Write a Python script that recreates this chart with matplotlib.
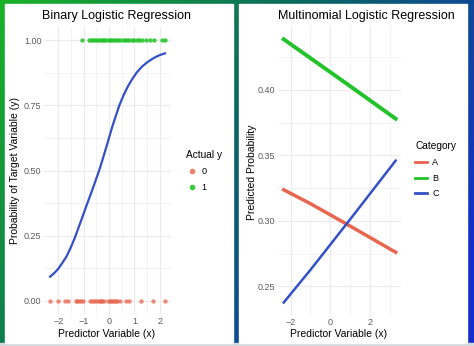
import numpy as np
import matplotlib
matplotlib.use("Agg")
import matplotlib.pyplot as plt
from matplotlib.patches import Rectangle
from matplotlib.lines import Line2D

plt.rcParams['font.family'] = ['Liberation Sans', 'DejaVu Sans']

# ---- binary logistic data ----
curve_x = [-2.33, -2.15, -2.0, -1.85, -1.67, -1.5, -1.34, -1.2, -1.05, -0.88,
           -0.72, -0.56, -0.39, -0.22, -0.03, 0.12, 0.27, 0.41, 0.58, 0.75,
           0.92, 1.09, 1.3, 1.5, 1.7, 1.9, 2.05, 2.21]
curve_p = [0.093, 0.108, 0.124, 0.145, 0.172, 0.207, 0.245, 0.282, 0.322, 0.368,
           0.41, 0.453, 0.50, 0.553, 0.615, 0.665, 0.71, 0.75, 0.79, 0.823,
           0.851, 0.875, 0.898, 0.914, 0.927, 0.938, 0.944, 0.949]
x_y1 = [-1.06, -0.78, -0.7, -0.62, -0.55, -0.48, -0.4, -0.33, -0.25, -0.18,
        -0.1, -0.02, 0.05, 0.12, 0.2, 0.28, 0.35, 0.45, 0.55, 0.62, 0.7, 0.8,
        0.9, 1.0, 1.1, 1.2, 1.3, 1.45, 1.6, 1.79, 2.08, 2.2]
x_y0 = [-2.33, -2.0, -1.74, -1.61, -1.32, -1.26, -1.19, -1.1, -1.02, -0.75,
        -0.67, -0.59, -0.51, -0.43, -0.37, -0.32, -0.26, -0.2, -0.05, 0.02,
        0.08, 0.14, 0.2, 0.26, 0.32, 0.43, 0.67, 0.79, 1.26, 1.73, 2.21]

# ---- multinomial data ----
multi_x = [-2.35, -1, 0, 1, 2, 3.3]
prob_a = [0.3237, 0.3131, 0.3046, 0.2960, 0.2873, 0.276]
prob_b = [0.4387, 0.4243, 0.4136, 0.4029, 0.3921, 0.378]
prob_c = [0.2376, 0.2626, 0.2818, 0.3011, 0.3206, 0.346]
categories = ['A', 'B', 'C']

RED = '#e8664f'
GREEN = '#22c32a'
BLUE = '#3450c8'
GRID = '#ebebeb'
TICK = '#5a5a5a'

W, H = 474, 346
fig = plt.figure(figsize=(W / 100, H / 100), dpi=100)

# gradient background (green top-left -> blue bottom-right)
bg = fig.add_axes([0, 0, 1, 1], zorder=-10)
gx, gy = np.meshgrid(np.linspace(0, 1, 200), np.linspace(0, 1, 200))
t = np.clip(0.75 * gx + 0.35 * gy, 0, 1)
c0 = np.array([0.10, 0.70, 0.15])
c1 = np.array([0.04, 0.40, 0.38])
c2 = np.array([0.08, 0.18, 0.80])
img = np.where(t[..., None] < 0.5,
               c0 + (c1 - c0) * (t[..., None] / 0.5),
               c1 + (c2 - c1) * ((t[..., None] - 0.5) / 0.5))
bg.imshow(img, extent=[0, 1, 0, 1], aspect='auto', origin='upper')
bg.add_patch(Rectangle((0, 0), 1, 3 / H, color='#d3d9df'))
bg.set_xlim(0, 1)
bg.set_ylim(0, 1)
bg.axis('off')

# white panels
for x0, x1 in [(5, 233), (239, 467)]:
    fig.patches.append(Rectangle((x0 / W, 3 / H), (x1 - x0) / W, (342 - 3) / H,
                                 transform=fig.transFigure, color='white', zorder=-5))


def style(ax):
    for s in ax.spines.values():
        s.set_visible(False)
    ax.tick_params(length=0, labelsize=6.5, labelcolor=TICK, pad=2)
    ax.grid(True, which='major', color=GRID, linewidth=0.8)
    ax.grid(True, which='minor', color=GRID, linewidth=0.4)
    ax.set_axisbelow(True)
    ax.set_facecolor('none')


# ---- left: binary ----
ax1 = fig.add_axes([44.3 / W, (H - 314) / H, (170.7 - 44.3) / W, 287 / H])
style(ax1)
ax1.scatter(x_y0, [0] * len(x_y0), s=10, color=RED, alpha=0.75, linewidths=0)
ax1.scatter(x_y1, [1] * len(x_y1), s=10, color=GREEN, alpha=0.85, linewidths=0)
ax1.plot(curve_x, curve_p, color=BLUE, linewidth=1.6, solid_joinstyle='round')
ax1.set_xlim(-2.557, 2.437)
ax1.set_ylim(-0.05, 1.05)
ax1.set_xticks([-2, -1, 0, 1, 2])
ax1.set_xticks([-1.5, -0.5, 0.5, 1.5], minor=True)
ax1.set_yticks([0, 0.25, 0.5, 0.75, 1.0])
ax1.set_yticklabels(['0.00', '0.25', '0.50', '0.75', '1.00'])
ax1.set_yticks([0.125, 0.375, 0.625, 0.875], minor=True)
ax1.tick_params(which='minor', length=0)
fig.text(117 / W, 1 - 16 / H, 'Binary Logistic Regression', ha='center', va='center', fontsize=9)
fig.text(106.5 / W, 1 - 334 / H, 'Predictor Variable (x)', ha='center', va='center', fontsize=7.5)
fig.text(15 / W, 1 - 170 / H, 'Probability of Target Variable (y)', ha='center', va='center',
         rotation=90, fontsize=7.5)
h1 = [Line2D([], [], linestyle='', marker='o', markersize=3, color=RED, alpha=0.75),
      Line2D([], [], linestyle='', marker='o', markersize=3, color=GREEN, alpha=0.85)]
leg1 = fig.legend(h1, ['0', '1'], title='Actual y', loc='upper left',
                  bbox_to_anchor=(178 / W, 1 - 142 / H), frameon=False, fontsize=6.5,
                  title_fontsize=7.3, handlelength=1.2, handletextpad=0.5, labelspacing=0.75)
leg1._legend_box.align = 'left'

# ---- right: multinomial ----
ax2 = fig.add_axes([278.2 / W, (H - 315.6) / H, 123 / W, (315.6 - 26.2) / H])
style(ax2)
ax2.plot(multi_x, prob_a, color=RED, linewidth=2.5, solid_joinstyle='round')
ax2.plot(multi_x, prob_b, color=GREEN, linewidth=2.8, solid_joinstyle='round')
ax2.plot(multi_x, prob_c, color=BLUE, linewidth=1.8, solid_joinstyle='round')
ax2.set_xlim(-2.63, 3.58)
ax2.set_ylim(0.2276, 0.4487)
ax2.set_xticks([-2, 0, 2])
ax2.set_xticks([-1, 1, 3], minor=True)
ax2.set_yticks([0.25, 0.30, 0.35, 0.40])
ax2.set_yticklabels(['0.25', '0.30', '0.35', '0.40'])
ax2.set_yticks([0.275, 0.325, 0.375, 0.425], minor=True)
ax2.tick_params(which='minor', length=0)
fig.text(366 / W, 1 - 16 / H, 'Multinomial Logistic Regression', ha='center', va='center', fontsize=9)
fig.text(339 / W, 1 - 334 / H, 'Predictor Variable (x)', ha='center', va='center', fontsize=7.5)
fig.text(252 / W, 1 - 172 / H, 'Predicted Probability', ha='center', va='center',
         rotation=90, fontsize=7.5)
h2 = [Line2D([], [], color=c, linewidth=2) for c in (RED, GREEN, BLUE)]
leg2 = fig.legend(h2, categories, title='Category', loc='upper left',
                  bbox_to_anchor=(407 / W, 1 - 133 / H), frameon=False, fontsize=6.5,
                  title_fontsize=7.3, handlelength=1.3, handletextpad=0.6, labelspacing=0.75)
leg2._legend_box.align = 'left'

fig.savefig('out.png', dpi=100)
